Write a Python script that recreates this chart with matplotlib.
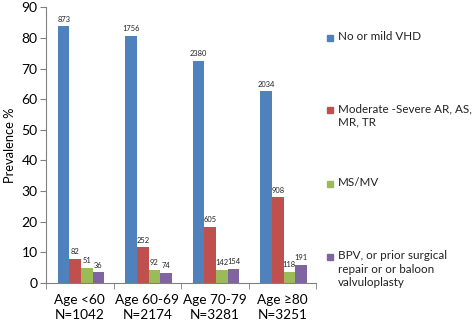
import matplotlib
matplotlib.use("Agg")
import matplotlib.pyplot as plt
from matplotlib.patches import Rectangle
import numpy as np

plt.rcParams['font.family'] = ['Lato', 'DejaVu Sans']

groups = ["Age <60", "Age 60-69", "Age 70-79", "Age \u226580"]
group_n = [1042, 2174, 3281, 3251]
series_names = [
    "No or mild VHD",
    "Moderate -Severe AR, AS,\nMR, TR",
    "MS/MV",
    "BPV, or prior surgical\nrepair or or baloon\nvalvuloplasty",
]
counts_no_mild = [873, 1756, 2380, 2034]
counts_mod_severe = [82, 252, 605, 908]
counts_ms_mv = [51, 92, 142, 118]
counts_bpv = [36, 74, 154, 191]
colors = ["#4F81BD", "#C0504D", "#9BBB59", "#8064A2"]

series_counts = [counts_no_mild, counts_mod_severe, counts_ms_mv, counts_bpv]

fig = plt.figure(figsize=(4.74, 3.22), dpi=100)
W, H = 474, 322
ax = fig.add_axes([46 / W, 1 - 283 / H, 270 / W, (283 - 7.3) / H])

x = np.arange(len(groups))
width = 0.172
offsets = (np.arange(4) - 1.5) * width + 0.02

for counts, color, off in zip(series_counts, colors, offsets):
    pct = np.array(counts) / np.array(group_n) * 100
    bars = ax.bar(x + off, pct, width, color=color, zorder=2)
    for b, c in zip(bars, counts):
        ax.text(b.get_x() + b.get_width() / 2, b.get_height() + 1.2, str(c),
                ha="center", va="bottom", fontsize=5.4, color="#222222")

ax.set_xlim(-0.5, len(groups) - 0.5)
ax.set_ylim(0, 90)
ax.set_yticks(np.arange(0, 91, 10))
ax.set_xticks(x)
ax.set_xticklabels([f"{g}\nN={n}" for g, n in zip(groups, group_n)],
                   fontsize=9.8, linespacing=1.25)
ax.tick_params(axis="x", length=0, pad=8)
ax.set_xticks(np.arange(-0.5, len(groups), 1), minor=True)
ax.tick_params(axis="x", which="minor", length=4, direction="out", color="#808080")
ax.tick_params(axis="y", length=4, direction="out", color="#808080", labelsize=10, pad=2)
for side in ["top", "right"]:
    ax.spines[side].set_visible(False)
for side in ["left", "bottom"]:
    ax.spines[side].set_color("#808080")
ax.set_ylabel("Prevalence %", fontsize=9.3, labelpad=4)

# legend on the right, entries spread down the figure
legend_y = [38, 110, 184, 257]
for name, color, yy in zip(series_names, colors, legend_y):
    fig.add_artist(Rectangle((327 / W, 1 - (yy + 3) / H), 6 / W, 6 / H,
                             transform=fig.transFigure, color=color))
    fig.text(338 / W, 1 - (yy - 7) / H, name, fontsize=8.4, va="top",
             ha="left", linespacing=1.3, color="#222222")

fig.savefig("out.png", dpi=100)
